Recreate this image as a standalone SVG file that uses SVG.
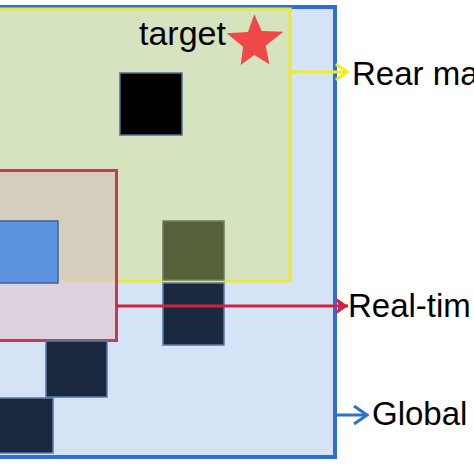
<svg xmlns="http://www.w3.org/2000/svg" width="474" height="474" viewBox="0 0 474 474">
<defs>
<style>
.lbl{font-family:"Liberation Sans",Arial,sans-serif;font-size:33px;fill:#000}
.obs{fill:#1b2940;stroke:#5a7aa8;stroke-width:1.5}
</style>
<marker id="aY" markerWidth="14" markerHeight="18" refX="12" refY="9" orient="auto" markerUnits="userSpaceOnUse">
<path d="M1,1 L12,9 L1,17" fill="none" stroke="#f2ee1e" stroke-width="3"/>
</marker>
<marker id="aB" markerWidth="16" markerHeight="20" refX="14" refY="10" orient="auto" markerUnits="userSpaceOnUse">
<path d="M1,1 L14,10 L1,19" fill="none" stroke="#2e6fd6" stroke-width="3"/>
</marker>
<marker id="aR" markerWidth="14" markerHeight="20" refX="13" refY="10" orient="auto" markerUnits="userSpaceOnUse">
<path d="M0,1 L13,10 L0,19 L4,10 Z" fill="#d4213d"/>
</marker>
</defs>
<rect width="474" height="474" fill="#fff"/>
<g id="global-map">
<rect x="-10" y="7" width="345" height="450" fill="#d5e3f6" stroke="#2e6fd6" stroke-width="4"/>
</g>
<g id="rear-map">
<rect x="-3" y="9" width="293" height="272" fill="#d5e3be" stroke="#e8e836" stroke-width="3"/>
</g>
<g id="realtime-map">
<rect x="-10" y="170.5" width="126.5" height="170" fill="#dfccd6" fill-opacity="0.75" stroke="#c8385a" stroke-width="3"/>
<rect x="-10" y="172" width="125" height="107.5" fill="#d6cebd"/>
</g>
<g id="obstacles">
<rect x="120" y="73" width="62" height="62" fill="#000" stroke="#4f6f9f" stroke-width="1.5"/>
<rect x="-5" y="221" width="63" height="62" fill="#5b93e0" stroke="#3f6296" stroke-width="1.5"/>
<rect x="163" y="221" width="61" height="59" fill="#566139" stroke="#6f7d62" stroke-width="1.5"/>
<rect class="obs" x="163" y="283" width="61" height="62"/>
<rect class="obs" x="46" y="341" width="61" height="56"/>
<rect class="obs" x="-5" y="398" width="58" height="55"/>
</g>
<g id="target">
<polygon points="254.3,14.3 261.7,31 283.3,31.7 265.7,45.7 269.3,64.3 254.3,55 240.7,65 243,46.7 226.7,33.3 248,32" fill="#f04848"/>
<text class="lbl" x="139" y="45" style="font-size:34px">target</text>
</g>
<g id="connectors">
<line x1="290" y1="72" x2="347" y2="72" stroke="#f2ee1e" stroke-width="3" marker-end="url(#aY)"/>
<line x1="116.5" y1="306" x2="348" y2="306" stroke="#d4213d" stroke-width="3" marker-end="url(#aR)"/>
<line x1="335" y1="415" x2="367" y2="415" stroke="#2e6fd6" stroke-width="3" marker-end="url(#aB)"/>
</g>
<g id="labels">
<text class="lbl" x="352" y="85">Rear ma</text>
<text class="lbl" x="348" y="317">Real-tim</text>
<text class="lbl" x="372" y="425">Global</text>
</g>
</svg>
